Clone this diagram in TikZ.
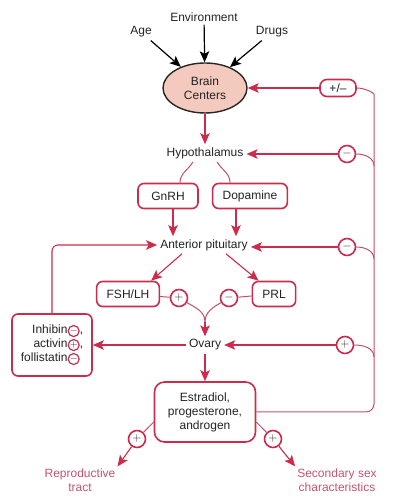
\documentclass[tikz,border=0pt]{standalone}
\usepackage{fontspec}
\setmainfont{Liberation Sans}
\usetikzlibrary{shapes.geometric, arrows.meta}

\definecolor{hred}{RGB}{204,44,76}
\definecolor{hline}{RGB}{196,80,104}
\definecolor{hpink}{RGB}{244,202,190}
\definecolor{htext}{RGB}{35,35,35}
\definecolor{horgan}{RGB}{196,84,112}

\tikzstyle{module}=[draw=hred, line width=1.6pt, rounded corners=6pt, text=htext, minimum height=25pt, inner xsep=10pt, align=center]
\tikzstyle{textnode}=[text=htext, inner sep=3pt, align=center]
\tikzstyle{sign}=[circle, draw=hred, line width=1.6pt, fill=white, text=htext, minimum size=17pt, inner sep=0pt, font=\fontsize{13}{13}\selectfont]
\tikzstyle{effect}=[->, hred, line width=1.1pt]
\tikzstyle{feed}=[hline, line width=1pt]
\tikzstyle{organ}=[text=horgan, align=center, inner sep=2pt]

\newcommand{\insign}[1]{\tikz[baseline=(s.base)]\node[circle, draw=hred, line width=1.2pt, minimum size=11pt, inner sep=0pt, font=\fontsize{10}{10}\selectfont] (s) {#1};}

\begin{document}
\begin{tikzpicture}[x=1pt, y=1pt, >={Stealth[length=11pt, width=9.5pt, inset=2.5pt]}, font=\fontsize{12}{14}\selectfont]
    \useasboundingbox (0,0) rectangle (404,500);

    % inputs to the brain
    \node (age) [textnode] at (141,468) {Age};
    \node (env) [textnode] at (204,483) {Environment};
    \node (drugs) [textnode] at (272,468) {Drugs};
    \node (brain) [ellipse, draw=black!85, fill=hpink, line width=1.4pt, minimum width=84pt, minimum height=50pt, align=center, text=htext] at (205,412) {Brain\\Centers};

    \draw [->, black, line width=1.2pt] (age) -- (brain);
    \draw [->, black, line width=1.2pt] (env) -- (brain);
    \draw [->, black, line width=1.2pt] (drugs) -- (brain);

    % hypothalamus and pituitary
    \node (hyp) [textnode] at (205,347) {Hypothalamus};
    \node (gnrh) [module, minimum width=60pt] at (168,304) {GnRH};
    \node (dop) [module] at (250,304) {Dopamine};
    \node (antp) [textnode] at (204,255) {Anterior pituitary};

    \draw [effect] (brain) -- (hyp);
    \draw [feed] ([xshift=-12pt]hyp.south) to[out=-120, in=90] ([xshift=12pt]gnrh.north);
    \draw [feed] ([xshift=12pt]hyp.south) to[out=-60, in=90] ([xshift=-20pt]dop.north);
    \draw [effect] ([xshift=5pt]gnrh.south) -- ([xshift=5pt]gnrh.south |- antp.north);
    \draw [effect] ([xshift=-14pt]dop.south) -- ([xshift=-14pt]dop.south |- antp.north);

    % gonadotropins
    \node (fsh) [module, minimum width=62pt] at (128,206) {FSH/LH};
    \node (prl) [module, minimum width=43pt] at (274,206) {PRL};
    \node (p1) [sign] at (179,202) {$+$};
    \node (m3) [sign] at (229,202) {$-$};
    \coordinate (join) at (205,178);

    \draw [effect] ([xshift=-22pt]antp.south) -- ([xshift=-9pt]fsh.north east);
    \draw [effect] ([xshift=22pt]antp.south) -- ([xshift=7pt]prl.north west);
    \draw [feed] (fsh) -- (p1);
    \draw [feed] (prl) -- (m3);
    \draw [feed] (p1) to[out=-30, in=90] (join);
    \draw [feed] (m3) to[out=-150, in=90] (join);

    % ovary
    \node (ovary) [textnode] at (205,155) {Ovary};
    \node (inh) [module, minimum width=80pt, minimum height=62pt, align=right, inner xsep=4pt] at (52,155) {Inhibin\insign{$-$},\\activin\insign{$+$},\\follistatin\insign{$-$}\phantom{,}};
    \node (est) [module, rounded corners=10pt, minimum width=101pt, minimum height=60pt] at (205,88) {Estradiol,\\progesterone,\\androgen};

    \draw [effect] (join) -- (ovary);
    \draw [effect] (ovary) -- (inh);
    \draw [effect] (ovary) -- (est);
    \draw [effect, rounded corners=6pt] (inh.north) |- (antp.west);

    % targets
    \node (p3) [sign] at (137,61) {$+$};
    \node (p4) [sign] at (273,61) {$+$};
    \node (rep) [organ] at (80,20) {Reproductive\\tract};
    \node (sec) [organ] at (337,20) {Secondary sex\\characteristics};

    \draw [feed] ([yshift=-10pt]est.west) -- (p3);
    \draw [feed] ([yshift=-10pt]est.east) -- (p4);
    \draw [effect] (p3) -- (rep.north east);
    \draw [effect] (p4) -- (sec.north west);

    % feedback loop
    \node (pm) [draw=hred, line width=1.6pt, rounded corners=7pt, minimum width=36pt, minimum height=17pt, inner sep=1pt, text=htext, font=\fontsize{12}{12}\selectfont] at (338,412) {+/--};
    \node (m1) [sign] at (347,346) {$-$};
    \node (m2) [sign] at (347,253) {$-$};
    \node (p2) [sign] at (345,155) {$+$};
    \coordinate (s0) at (374,398);
    \coordinate (s1) at (374,334);
    \coordinate (s2) at (374,241);
    \coordinate (s3) at (374,143);

    \draw [feed, rounded corners=8pt] (est.east) -| (s0) to[out=90, in=0] (pm.east);
    \draw [feed] (m1.east) to[out=0, in=90] (s1);
    \draw [feed] (m2.east) to[out=0, in=90] (s2);
    \draw [feed] (p2.east) to[out=0, in=90] (s3);

    \draw [effect] (pm) -- (brain);
    \draw [effect] (m1) -- (hyp.east |- m1);
    \draw [effect] (m2) -- (antp.east |- m2);
    \draw [effect] (p2) -- (ovary);
\end{tikzpicture}
\end{document}
